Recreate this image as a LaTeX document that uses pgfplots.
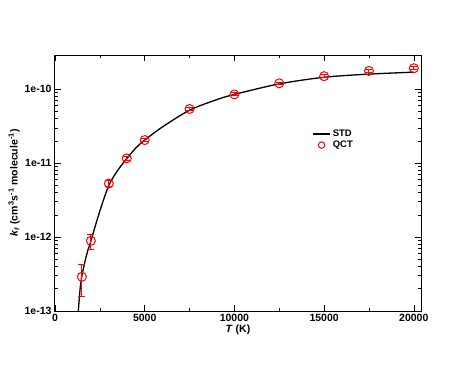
\documentclass[border=0pt]{standalone}
\usepackage{fontspec}
\setmainfont{Liberation Sans}
\usepackage{pgfplots}
\pgfplotsset{compat=1.18}
\begin{document}
\begin{tikzpicture}
\useasboundingbox (-55pt,-55pt) rectangle (419pt,311pt);
\begin{axis}[
  at={(0,0)}, anchor=south west,
  scale only axis, width=366pt, height=256pt,
  xmin=0, xmax=20400,
  ymode=log, ymin=1e-13, ymax=2.9e-10,
  scaled x ticks=false,
  xtick={0,5000,10000,15000,20000},
  xticklabels={\textbf{0},\textbf{5000},\textbf{10000},\textbf{15000},\textbf{20000}},
  minor xtick={2500,7500,12500,17500},
  ytick={1e-13,1e-12,1e-11,1e-10},
  yticklabels={\textbf{1e-13},\textbf{1e-12},\textbf{1e-11},\textbf{1e-10}},
  tick align=inside,
  major tick length=6pt, minor tick length=3pt,
  every tick/.style={black, line width=0.6pt},
  axis line style={line width=1pt},
  tick label style={font=\fontsize{10.5}{12}\selectfont},
  xlabel={\textbf{\textit{T} (K)}},
  ylabel={\textbf{\textit{k}\raisebox{-0.4ex}{\scriptsize\textit{f}} (cm\textsuperscript{3}s\textsuperscript{-1} molecule\textsuperscript{-1})}},
  label style={font=\fontsize{10.5}{12}\selectfont},
  xlabel style={yshift=4pt},
  ylabel style={yshift=-2pt},
  legend style={draw=none, fill=none, at={(rel axis cs:0.7,0.72)}, anchor=north west,
    font=\fontsize{9.5}{11}\selectfont\bfseries, row sep=-1pt, inner sep=1pt},
  legend cell align=left,
  clip=true,
]
\addplot[black, line width=1.3pt, smooth] coordinates {
(1300,1.0e-13) (1400,2.0e-13) (1500,3.0e-13) (1750,5.6e-13) (2000,8.9e-13)
(2500,2.25e-12) (3000,5.0e-12) (3500,8.0e-12) (4000,1.15e-11) (4500,1.6e-11)
(5000,2.05e-11) (6000,3.1e-11) (7500,5.2e-11) (9000,7.2e-11) (10000,8.5e-11)
(12500,1.18e-10) (15000,1.45e-10) (17500,1.6e-10) (20000,1.7e-10)
};
\addlegendentry{STD}
\addplot[only marks, red, mark=o, mark size=4.5pt, line width=1pt,
  legend image post style={mark size=3.2pt},
  error bars/.cd, y dir=both, y explicit,
  error bar style={red, line width=1pt}, error mark options={red, line width=1pt, mark size=3.5pt, rotate=90}]
coordinates {
(1500,2.9e-13) += (0,1.3e-13) -= (0,1.35e-13)
(2000,8.9e-13) += (0,2.0e-13) -= (0,2.2e-13)
(3000,5.3e-12) += (0,0.5e-12) -= (0,0.5e-12)
(4000,1.16e-11) += (0,0.08e-11) -= (0,0.08e-11)
(5000,2.05e-11) += (0,0.1e-11) -= (0,0.1e-11)
(7500,5.4e-11) += (0,0.25e-11) -= (0,0.25e-11)
(10000,8.5e-11) += (0,0.4e-11) -= (0,0.4e-11)
(12500,1.2e-10) += (0,0.05e-10) -= (0,0.05e-10)
(15000,1.5e-10) += (0,0.06e-10) -= (0,0.06e-10)
(17500,1.77e-10) += (0,0.07e-10) -= (0,0.07e-10)
(20000,1.92e-10) += (0,0.08e-10) -= (0,0.08e-10)
};
\addlegendentry{QCT}
\end{axis}
\end{tikzpicture}
\end{document}
